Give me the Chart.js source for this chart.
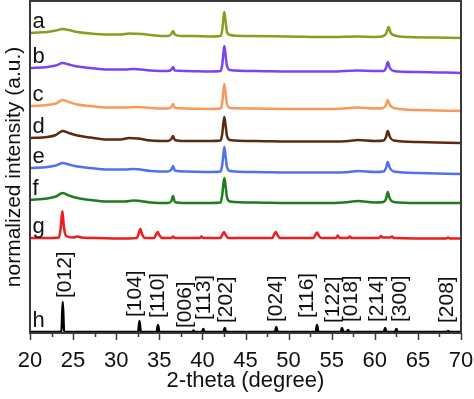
<!DOCTYPE html>
<html>
<head>
<meta charset="utf-8">
<script src="https://cdn.jsdelivr.net/npm/chart.js@4/dist/chart.umd.min.js"></script>
<style>
  html, body { margin: 0; padding: 0; background: #fff; }
</style>
</head>
<body>
<canvas id="xrd" width="474" height="399"></canvas>
<script>
// XRD patterns, stacked (intensity in arbitrary units, offset per sample)
const traceNames = ["a", "b", "c", "d", "e", "f", "g", "h"];
const traceColors = ["#8b9d1c", "#7a45f0", "#f79a5e", "#5c2a10", "#5070f0", "#1e7d1e", "#ee1c1c", "#000000"];

const traceA = [[20,300],[21,300.5],[22,301],[23,302.5],[23.8,304],[24.5,303],[25.5,301],[27,299.5],[29,298.5],[30.5,298.5],[31.5,299.5],[33,299],[34.5,297.5],[36,297],[36.4,299],[36.6,302],[36.8,298.5],[37.5,297],[39,297],[41,296.5],[42.1,297],[42.3,303],[42.45,316],[42.55,321],[42.7,311],[42.85,301],[43.2,298],[45,297],[50,296.5],[55,296],[58,296.5],[60,296],[61.0,297],[61.35,300],[61.6,306],[61.85,300],[62.3,297.5],[64,296],[67,295.5],[70,295]];
const traceB = [[20,265],[22,266],[23,267.5],[23.8,270],[24.5,268.5],[25.5,266.5],[27,265],[29,263.5],[31,263.5],[32,264],[34,262.5],[36,262],[36.4,263.5],[36.6,266],[36.8,262.5],[38,262],[41,261.5],[42.1,262],[42.3,268],[42.45,281],[42.55,287],[42.7,277],[42.85,267],[43.2,263],[46,262],[50,261.5],[55,261.5],[58,262.5],[60,262],[61.0,262],[61.3,265],[61.5,271],[61.75,265],[62.2,262],[65,261],[70,260]];
const traceC = [[20,227],[22,228],[23,229.5],[23.8,233],[24.5,231],[25.5,228.5],[27,227],[29,225.5],[31,225.5],[32.5,226],[34,225],[36,224.5],[36.4,226],[36.6,229],[36.8,225],[38,224.5],[41,224],[42.1,224.5],[42.3,230],[42.45,243],[42.55,249],[42.7,239],[42.85,229],[43.2,225],[46,224.5],[50,224],[55,224],[57,225],[58,225.5],[60,224.5],[61.0,225],[61.3,228],[61.5,233],[61.75,228],[62.2,225],[65,223],[70,222]];
const traceD = [[20,195],[22,196],[23,198],[23.8,202],[24.5,200],[25.5,197.5],[27,195.5],[29,193.5],[30.5,193.5],[31.5,195],[32.5,194.5],[34,192.5],[36,192],[36.4,194],[36.6,197],[36.8,193],[38,192],[41,192],[42.1,192.5],[42.3,199],[42.45,211],[42.55,216],[42.7,207],[42.85,197],[43.2,193],[46,192],[50,191.5],[55,191.5],[57,192],[58,193],[60,192],[61.0,192.5],[61.3,196],[61.5,202],[61.75,196],[62.2,192.5],[65,191],[70,190]];
const traceE = [[20,165],[22,166],[23,167.5],[23.8,170],[24.5,168.5],[25.5,166.5],[27,165],[29,163.5],[31,163.5],[32,164],[34,162],[36,161.5],[36.4,163.5],[36.6,167],[36.8,162.5],[38,161.5],[41,161],[42.1,161.5],[42.3,168],[42.45,180],[42.55,186],[42.7,176],[42.85,166],[43.2,162],[46,161],[50,160.5],[55,160.5],[57,161],[58,162],[60,161],[61.0,161.5],[61.3,165],[61.5,171],[61.75,165],[62.2,161.5],[65,160],[70,159]];
const traceF = [[20,133],[22,134.5],[23,136.5],[23.8,140],[24.5,137.5],[25.5,135],[27,133],[29,131.5],[31,131.5],[32,132.5],[34,130.5],[36,130],[36.4,132],[36.6,137],[36.8,131],[38,130],[41,130],[42.1,130.5],[42.3,138],[42.45,150],[42.55,155],[42.7,146],[42.85,136],[43.2,131.5],[46,130.5],[50,130],[55,130],[57,131],[58,132],[60,130.5],[61.0,131],[61.3,134],[61.5,141],[61.75,134],[62.2,131],[65,130],[70,130]];
const traceG = [[20,95],[22,95],[23.35,95.5],[23.55,104],[23.75,122],[23.95,105],[24.2,97],[25,95.5],[25.5,96.5],[26,95.5],[28,95],[30,94.5],[32.4,95],[32.6,99],[32.8,104],[33.0,99],[33.3,95],[34.4,95],[34.6,98],[34.8,101],[35.0,98],[35.3,95],[36.4,95],[36.6,96.5],[36.8,95],[39.7,95],[39.9,96.5],[40.1,95],[42.1,95],[42.3,98],[42.5,101],[42.7,98],[43,95],[48.1,95],[48.3,98],[48.5,101],[48.7,98],[49,95],[52.9,95],[53.1,98],[53.3,100.5],[53.5,97.5],[53.8,95],[55.5,95],[55.7,97.5],[55.9,95],[56.9,95],[57.1,96.5],[57.3,95],[60.5,95],[60.7,97],[60.9,95.5],[61.8,95.5],[62.0,96.5],[62.2,95],[68.3,94.5],[68.5,95.5],[68.7,94.5],[70,94.5]];
const traceH = [[20,1],[23.65,1],[23.8,31],[23.95,1],[32.55,1],[32.7,12],[32.85,1],[34.7,1],[34.85,8],[35.0,1],[38.85,1],[38.97,2.5],[39.1,1],[39.95,1],[40.1,4],[40.25,1],[42.45,1],[42.6,5],[42.75,1],[48.42,1],[48.57,6],[48.72,1],[53.15,1],[53.3,8],[53.45,1],[56.05,1],[56.2,5],[56.35,1],[56.75,1],[56.9,3],[57.05,1],[61.05,1],[61.2,5],[61.35,1],[62.35,1],[62.5,4],[62.65,1],[68.35,1],[68.5,2],[68.65,1],[70,1]];

// reference reflections for pattern h
const hklNames = ["[012]", "[104]", "[110]", "[006]", "[113]", "[202]", "[024]", "[116]", "[122]", "[018]", "[214]", "[300]", "[208]"];
const hklX = [24.1, 32.2, 34.9, 38.0, 40.2, 42.8, 48.6, 52.2, 55.2, 57.3, 60.3, 62.9, 68.4];
const hklBase = [35, 16, 15, 5, 13, 10, 11, 15, 10, 11, 11, 11, 10];

const traces = [traceA, traceB, traceC, traceD, traceE, traceF, traceG, traceH];
const xTicks = [20, 25, 30, 35, 40, 45, 50, 55, 60, 65, 70];

const FONT = '"Liberation Sans", Arial, sans-serif';

const decor = {
  id: "decor",
  afterDatasetsDraw(chart) {
    const { ctx, chartArea: area, scales: { x, y } } = chart;
    ctx.save();
    ctx.fillStyle = "#111";

    // sample letters
    ctx.font = "22px " + FONT;
    ctx.textAlign = "left";
    ctx.textBaseline = "alphabetic";
    traces.forEach((t, i) => {
      ctx.fillText(traceNames[i], x.getPixelForValue(20.3), y.getPixelForValue(t[0][1] + 5));
    });

    // hkl labels, rotated
    ctx.font = "21px " + FONT;
    ctx.textBaseline = "middle";
    hklNames.forEach((s, i) => {
      ctx.save();
      ctx.translate(x.getPixelForValue(hklX[i]), y.getPixelForValue(hklBase[i]));
      ctx.rotate(-Math.PI / 2);
      ctx.fillText(s, 0, 0);
      ctx.restore();
    });

    // frame
    ctx.strokeStyle = "#3a3a3a";
    ctx.lineWidth = 2;
    ctx.strokeRect(area.left, area.top, area.width, area.height);

    // x ticks (major + minor)
    ctx.lineWidth = 1.5;
    for (let v = 20; v <= 70; v += 2.5) {
      const px = Math.round(x.getPixelForValue(v)) + 0.5;
      const len = v % 5 === 0 ? 7 : 4;
      ctx.beginPath();
      ctx.moveTo(px, area.bottom);
      ctx.lineTo(px, area.bottom + len);
      ctx.stroke();
    }
    ctx.restore();
  }
};

new Chart(document.getElementById("xrd"), {
  type: "line",
  data: {
    datasets: traces.map((t, i) => ({
      label: traceNames[i],
      data: t,
      borderColor: traceColors[i],
      borderWidth: 2.5,
      pointRadius: 0,
      cubicInterpolationMode: "monotone",
      fill: false
    }))
  },
  options: {
    responsive: false,
    animation: false,
    layout: { padding: { top: 1, right: 13, left: 0, bottom: 0 } },
    plugins: { legend: { display: false }, tooltip: { enabled: false } },
    scales: {
      x: {
        type: "linear",
        min: 20,
        max: 70,
        grid: { display: false },
        border: { display: false },
        afterBuildTicks: (s) => { s.ticks = xTicks.map(v => ({ value: v })); },
        ticks: { color: "#111", font: { size: 22, family: FONT }, padding: 7, maxRotation: 0 },
        title: { display: true, text: "2-theta (degree)", color: "#111", font: { size: 22, family: FONT }, padding: { top: 2, bottom: 5 } },
        afterFit: (s) => { s.height = 66; s.paddingLeft = 0; s.paddingRight = 0; }
      },
      y: {
        min: 0,
        max: 332,
        grid: { display: false },
        border: { display: false },
        ticks: { display: false },
        title: { display: true, text: "normalized intensity (a.u.)", color: "#111", font: { size: 21, family: FONT }, padding: 2 },
        afterFit: (s) => { s.width = 30; }
      }
    }
  },
  plugins: [decor]
});
</script>
</body>
</html>
